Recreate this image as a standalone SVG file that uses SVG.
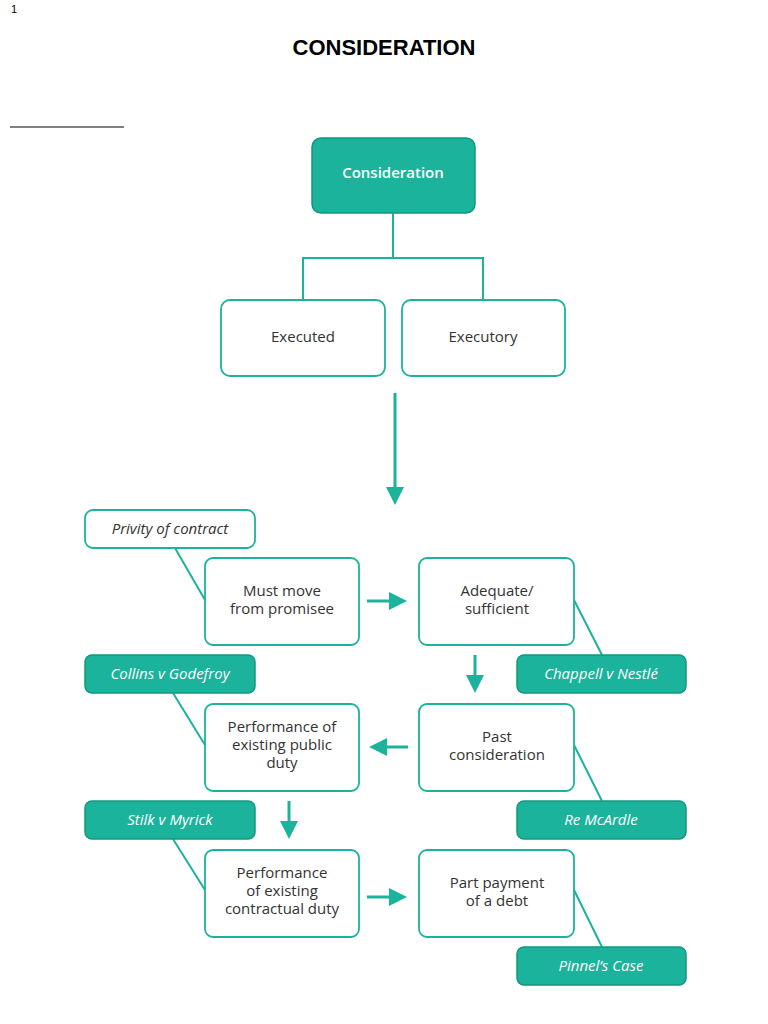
<svg xmlns="http://www.w3.org/2000/svg" width="768" height="1024" viewBox="0 0 768 1024">
<style>
.b{fill:#fff;stroke:#1bb39b;stroke-width:1.8}
.f{fill:#1bb39b;stroke:#14967f;stroke-width:1.5}
.t{font-family:"Open Sans","Liberation Sans",sans-serif;font-size:15px;fill:#333;text-anchor:middle}
.i{font-style:italic}
.w{fill:#fff}
.c{stroke:#1bb39b;stroke-width:2;fill:none}
.a{stroke:#1bb39b;stroke-width:3;fill:none}
</style>
<defs><marker id="m" markerWidth="6" markerHeight="6" refX="3" refY="3" orient="auto" markerUnits="strokeWidth"><path d="M0,0 L6,3 L0,6 Z" fill="#1bb39b"/></marker></defs>
<rect width="768" height="1024" fill="#fff"/>
<text x="11" y="13" font-family="Liberation Sans,sans-serif" font-size="11">1</text>
<text x="384" y="55" font-family="Liberation Sans,sans-serif" font-size="22" font-weight="bold" text-anchor="middle">CONSIDERATION</text>
<line x1="10" y1="127" x2="124" y2="127" stroke="#000" stroke-width="1"/>
<g id="connectors">
<path class="c" d="M393,213 V258 M303,300 V258 H483 V300"/>
<line class="a" x1="395" y1="393" x2="395" y2="496" stroke-width="4" marker-end="url(#m)"/>
<path class="c" d="M175,548 L205,600 M173,693 L205,745 M173,839 L205,890 M574,600 L602,655 M574,745 L602,801 M574,890 L602,947"/>
<line class="a" x1="367" y1="601" x2="398" y2="601" marker-end="url(#m)"/>
<line class="a" x1="475" y1="655" x2="475" y2="684" marker-end="url(#m)"/>
<line class="a" x1="408" y1="747" x2="378" y2="747" marker-end="url(#m)"/>
<line class="a" x1="289" y1="801" x2="289" y2="830" marker-end="url(#m)"/>
<line class="a" x1="367" y1="897" x2="398" y2="897" marker-end="url(#m)"/>
</g>
<g id="n-consideration"><rect class="f" x="312" y="138" width="163" height="75" rx="9"/><text class="t w" x="393" y="178" font-weight="600">Consideration</text></g>
<g id="n-executed"><rect class="b" x="221" y="300" width="164" height="76" rx="9"/><text class="t" x="303" y="342">Executed</text></g>
<g id="n-executory"><rect class="b" x="402" y="300" width="163" height="76" rx="9"/><text class="t" x="483" y="342">Executory</text></g>
<g id="n-privity"><rect class="b" x="85" y="510" width="170" height="38" rx="8"/><text class="t i" x="170" y="534">Privity of contract</text></g>
<g id="n-must"><rect class="b" x="205" y="558" width="154" height="87" rx="8"/><text class="t" x="282" y="596">Must move</text><text class="t" x="282" y="614">from promisee</text></g>
<g id="n-adequate"><rect class="b" x="419" y="558" width="155" height="87" rx="8"/><text class="t" x="497" y="596">Adequate/</text><text class="t" x="497" y="614">sufficient</text></g>
<g id="n-collins"><rect class="f" x="85" y="655" width="170" height="38" rx="7"/><text class="t i w" x="170" y="679">Collins v Godefroy</text></g>
<g id="n-chappell"><rect class="f" x="517" y="655" width="169" height="38" rx="7"/><text class="t i w" x="601" y="679">Chappell v Nestlé</text></g>
<g id="n-public"><rect class="b" x="205" y="704" width="154" height="87" rx="8"/><text class="t" x="282" y="732">Performance of</text><text class="t" x="282" y="750">existing public</text><text class="t" x="282" y="768">duty</text></g>
<g id="n-past"><rect class="b" x="419" y="704" width="155" height="87" rx="8"/><text class="t" x="497" y="742">Past</text><text class="t" x="497" y="760">consideration</text></g>
<g id="n-stilk"><rect class="f" x="85" y="801" width="170" height="38" rx="7"/><text class="t i w" x="170" y="825">Stilk v Myrick</text></g>
<g id="n-remcardle"><rect class="f" x="517" y="801" width="169" height="38" rx="7"/><text class="t i w" x="601" y="825">Re McArdle</text></g>
<g id="n-contractual"><rect class="b" x="205" y="850" width="154" height="87" rx="8"/><text class="t" x="282" y="878">Performance</text><text class="t" x="282" y="896">of existing</text><text class="t" x="282" y="914">contractual duty</text></g>
<g id="n-part"><rect class="b" x="419" y="850" width="155" height="87" rx="8"/><text class="t" x="497" y="888">Part payment</text><text class="t" x="497" y="906">of a debt</text></g>
<g id="n-pinnel"><rect class="f" x="517" y="947" width="169" height="38" rx="7"/><text class="t i w" x="601" y="971">Pinnel’s Case</text></g>
</svg>
